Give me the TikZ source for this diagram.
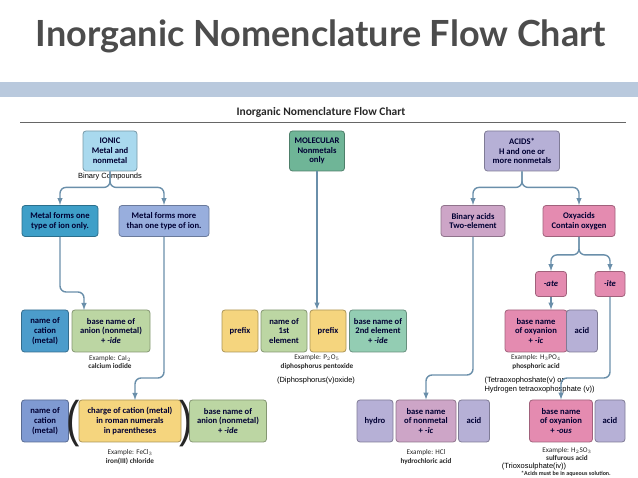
\documentclass[tikz,border=0pt]{standalone}
\usepackage{fontspec}
\setmainfont{Carlito}
\newfontfamily\plainfont{Liberation Sans}
\newfontfamily\titlefont{Lato}
\usetikzlibrary{positioning}
\definecolor{flowArrow}{HTML}{6A8FAA}
\definecolor{ionicBlue}{HTML}{A9D9EE}
\definecolor{oneBlue}{HTML}{3E9FC8}
\definecolor{moreBlue}{HTML}{98AEDD}
\definecolor{cationBlue}{HTML}{4C9CCB}
\definecolor{cationLav}{HTML}{7F9AD2}
\definecolor{anionGreen}{HTML}{BCD6A3}
\definecolor{prefixYellow}{HTML}{F5D57E}
\definecolor{molGreen}{HTML}{6FB597}
\definecolor{secondGreen}{HTML}{93CDB3}
\definecolor{acidLav}{HTML}{B6B0D6}
\definecolor{binPink}{HTML}{CDA5C7}
\definecolor{oxyPink}{HTML}{E48BB0}
\definecolor{bandBlue}{HTML}{B9C9DD}
\begin{document}
\begin{tikzpicture}[x=1pt,y=-1pt,
    box/.style={rectangle,rounded corners=3pt,draw=#1!70!black,fill=#1,thick,inner sep=1pt,align=center,
        font=\fontsize{8.6}{9.8}\selectfont\bfseries,text=black!80!blue},
    post/.style={-latex,line width=1.4pt,color=flowArrow,rounded corners=6pt},
    note/.style={align=center,font=\fontsize{7.2}{8.2}\selectfont,text=black!85},
    plain/.style={align=left,font=\plainfont\fontsize{7.5}{9}\selectfont},
    paren/.style={font=\plainfont\fontsize{40}{40}\selectfont,text=black!85,yscale=1.25}
    ]
    \useasboundingbox (0,0) rectangle (638,478);
    % header
    \node[font=\titlefont\bfseries\fontsize{36}{40}\selectfont,text=black!70] (mainTitle) at (321,36) {Inorganic Nomenclature Flow Chart};
    \fill[bandBlue] (0,82) rectangle (638,97);
    \node[font=\bfseries\fontsize{11.5}{13}\selectfont,text=black!85] (subTitle) at (321,112) {Inorganic Nomenclature Flow Chart};
    \draw[black!60,thick] (20,122) -- (626,122);

    % top row
    \node[box=ionicBlue,minimum width=54,minimum height=40] (ionic) at (110,151) {IONIC\\Metal and\\nonmetal};
    \node[plain] (binary) at (110,177) {Binary Compounds};
    \node[box=molGreen,minimum width=55,minimum height=40] (molecular) at (317,151) {MOLECULAR\\Nonmetals\\only};
    \node[box=acidLav,minimum width=75,minimum height=40] (acids) at (522,151) {ACIDS*\\H and one or\\more nonmetals};

    % second row
    \node[box=oneBlue,minimum width=76,minimum height=31] (metalOne) at (60,221) {Metal forms one\\type of ion only.};
    \node[box=moreBlue,minimum width=90,minimum height=31] (metalMore) at (164,221) {Metal forms more\\than one type of ion.};
    \node[box=binPink,minimum width=64,minimum height=31] (binAcid) at (473,221) {Binary acids\\Two-element};
    \node[box=oxyPink,minimum width=72,minimum height=31] (oxyAcid) at (579,221) {Oxyacids\\Contain oxygen};
    \node[box=oxyPink,minimum width=31,minimum height=25] (ate) at (551,284) {\itshape -ate};
    \node[box=oxyPink,minimum width=30,minimum height=25] (ite) at (610,284) {\itshape -ite};

    % first result row
    \node[box=cationBlue,minimum width=47,minimum height=42] (cationA) at (45,331) {name of\\cation\\(metal)};
    \node[box=anionGreen,minimum width=78,minimum height=42] (anionA) at (111,331) {base name of\\anion (nonmetal)\\+ \itshape-ide};
    \node[box=prefixYellow,minimum width=36,minimum height=42] (prefixA) at (240,331) {prefix};
    \node[box=anionGreen,minimum width=46,minimum height=42] (firstEl) at (284,331) {name of\\1st\\element};
    \node[box=prefixYellow,minimum width=36,minimum height=42] (prefixB) at (328,331) {prefix};
    \node[box=secondGreen,minimum width=57,minimum height=42] (secondEl) at (378,331) {base name of\\2nd element\\+ \itshape-ide};
    \node[box=oxyPink,minimum width=62,minimum height=42] (oxyIc) at (536,331) {base name\\of oxyanion\\+ \itshape-ic};
    \node[box=acidLav,minimum width=31,minimum height=42] (acidA) at (582,331) {acid};

    \node[note] (exCaI) at (110,362) {Example: CaI$_2$\\\bfseries calcium iodide};
    \node[note] (exPO) at (317,362) {Example: P$_2$O$_5$\\\bfseries diphosphorus pentoxide};
    \node[plain] (diphos) at (316,381) {(Diphosphorus(v)oxide)};
    \node[note] (exHPO) at (536,362) {Example: H$_3$PO$_4$\\\bfseries phosphoric acid};
    \node[plain,anchor=west] (tetra) at (481,385) {(Tetraoxophoshate(v) or\\Hydrogen tetraoxophosphate (v))};

    % second result row
    \node[box=cationLav,minimum width=47,minimum height=42] (cationB) at (45,421) {name of\\cation\\(metal)};
    \node[box=prefixYellow,minimum width=102,minimum height=42] (charge) at (130,421) {charge of cation (metal)\\in roman numerals\\in parentheses};
    \node[paren] (parL) at (73,424) {(};
    \node[paren] (parR) at (186,424) {)};
    \node[box=anionGreen,minimum width=77,minimum height=42] (anionB) at (228,421) {base name of\\anion (nonmetal)\\+ \itshape-ide};
    \node[box=acidLav,minimum width=36,minimum height=42] (hydro) at (375,421) {hydro};
    \node[box=binPink,minimum width=60,minimum height=42] (nonIc) at (426,421) {base name\\of nonmetal\\+ \itshape-ic};
    \node[box=acidLav,minimum width=31,minimum height=42] (acidB) at (474,421) {acid};
    \node[box=oxyPink,minimum width=63,minimum height=42] (oxyOus) at (561,421) {base name\\of oxyanion\\+ \itshape-ous};
    \node[box=acidLav,minimum width=30,minimum height=42] (acidC) at (610,421) {acid};

    \node[note] (exFe) at (130,457) {Example: FeCl$_3$\\\bfseries iron(III) chloride};
    \node[note] (exHCl) at (426,457) {Example: HCl\\\bfseries hydrochloric acid};
    \node[note] (exHSO) at (567,454) {Example: H$_2$SO$_3$\\\bfseries sulfurous acid};
    \node[plain] (trioxo) at (534,467) {(Trioxosulphate(iv))};
    \node[note,font=\fontsize{6}{6.5}\selectfont\bfseries] (aqNote) at (566,474) {*Acids must be in aqueous solution.};

    % connectors
    \draw[post] (ionic.south) -- ++(0,16) -| (metalOne.north);
    \draw[post] (ionic.south) -- ++(0,16) -| (metalMore.north);
    \draw[post] (acids.south) -- ++(0,16) -| (binAcid.north);
    \draw[post] (acids.south) -- ++(0,16) -| (oxyAcid.north);
    \draw[post] (oxyAcid.south) -- ++(0,18) -| (ate.north);
    \draw[post] (oxyAcid.south) -- ++(0,18) -| (ite.north);
    \draw[post] (metalOne.south) |- (84,292) -- (84,310);
    \draw[post] (metalMore.south) |- (135,378) -- (135,400);
    \draw[post] (molecular.south) -- (molecular.south |- prefixB.north);
    \draw[post] (binAcid.south) |- (426,375) -- (nonIc.north);
    \draw[post] (ate.south) -- (ate.south |- oxyIc.north);
    \draw[post] (ite.south) |- (561,378) -- (oxyOus.north);
\end{tikzpicture}
\end{document}
